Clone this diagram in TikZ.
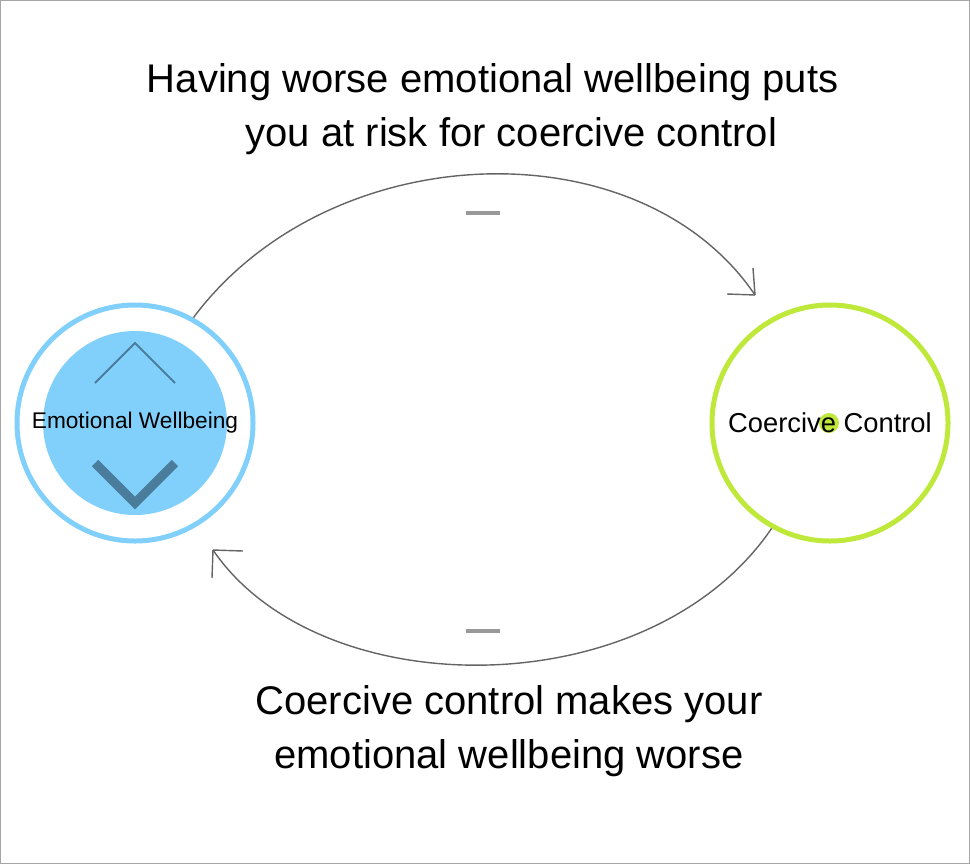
\documentclass[tikz,border=0pt]{standalone}
\usepackage{fontspec}
\setmainfont{Liberation Sans}
\usetikzlibrary{positioning}
\definecolor{wellblue}{RGB}{129,208,252}
\definecolor{chevron}{RGB}{74,125,156}
\definecolor{controlgreen}{RGB}{190,232,58}
\definecolor{linkgray}{RGB}{100,100,100}

\begin{document}
\begin{tikzpicture}[x=0.75pt,y=-0.75pt]
    \tikzset{ring/.style={circle,draw,line width=3.75pt,minimum size=177pt,inner sep=0pt}}
    \tikzset{link/.style={linkgray,line width=1.05pt}}
    \tikzset{sign/.style={gray!80,line width=2.6pt}}
    \tikzset{caption/.style={font=\fontsize{30}{41}\selectfont,align=center}}

    % frame
    \draw[gray!70,line width=0.75pt] (0.5,0.5) rectangle (969.5,863.5);

    % Emotional Wellbeing
    \node[ring,draw=wellblue] (well) at (135,423) {};
    \fill[wellblue] (well.center) circle (92);
    \draw[chevron,line width=1.5pt] (95,383) -- (135,343) -- (175,383);
    \draw[chevron,line width=6.75pt] (95,463) -- (135,503) -- (175,463);
    \node[font=\fontsize{17}{20}\selectfont] (welltext) at (well.center) {Emotional Wellbeing};

    % Coercive Control
    \node[ring,draw=controlgreen] (ctrl) at (830,423) {};
    \fill[controlgreen] (829,423) circle (10);
    \node[font=\fontsize{20.5}{24}\selectfont] (ctrltext) at (ctrl.center) {Coercive Control};

    % links
    \coordinate (topend) at (755,295);
    \coordinate (botend) at (213,550);
    \draw[link] (well.61) .. controls (330,135) and (640,125) .. (topend);
    \draw[link] (topend) -- ++(-2,-27) (topend) -- ++(-28,-1);
    \draw[link] (ctrl.-119) .. controls (650,707) and (320,707) .. (botend);
    \draw[link] (botend) -- ++(-1,28) (botend) -- ++(30,1);

    \draw[sign] (466,213) -- (500,213);
    \draw[sign] (466,631) -- (500,631);

    \node[caption] (topcap) at (502,109) {\hspace*{-14pt}Having worse emotional wellbeing puts\\\hspace*{14pt}you at risk for coercive control};
    \node[caption] (botcap) at (509,731) {Coercive control makes your\\emotional wellbeing worse};
\end{tikzpicture}
\end{document}
